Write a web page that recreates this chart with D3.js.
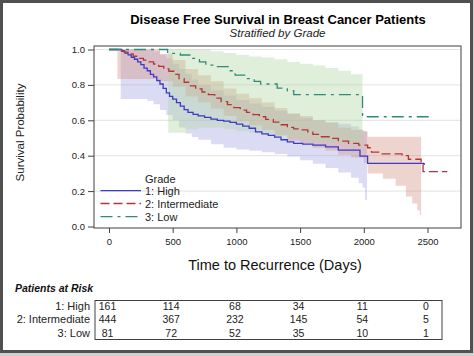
<!DOCTYPE html>
<html><head><meta charset="utf-8">
<script src="https://cdn.jsdelivr.net/npm/d3@7"></script>
<style>html,body{margin:0;padding:0;background:#fff;} svg{display:block;font-family:"Liberation Sans",Arial,sans-serif;}</style>
</head><body><svg id="c" width="474" height="356"></svg>
<script>
// ---------- data ----------
const groupNames = ["1: High", "2: Intermediate", "3: Low"];

const highTime = [0, 100, 125, 150, 175, 200, 225, 250, 275, 300, 325, 350, 375, 400, 425, 450, 475, 500, 530, 560, 590, 620, 660, 700, 750, 800, 850, 900, 950, 1000, 1050, 1100, 1150, 1200, 1250, 1300, 1350, 1400, 1450, 1520, 1600, 1700, 1800, 1970, 2030, 2470];
const highSurv = [1.0, 0.99, 0.98, 0.97, 0.955, 0.945, 0.93, 0.915, 0.895, 0.88, 0.86, 0.845, 0.825, 0.805, 0.78, 0.755, 0.735, 0.72, 0.70, 0.68, 0.66, 0.645, 0.633, 0.625, 0.617, 0.607, 0.60, 0.595, 0.588, 0.578, 0.567, 0.555, 0.535, 0.523, 0.515, 0.505, 0.49, 0.478, 0.47, 0.465, 0.46, 0.45, 0.432, 0.398, 0.357, 0.353];
const highEnd = 2480;

const interTime = [0, 90, 120, 150, 190, 230, 270, 310, 350, 390, 430, 470, 510, 550, 590, 630, 680, 730, 780, 830, 880, 930, 980, 1030, 1080, 1130, 1180, 1230, 1290, 1350, 1400, 1450, 1500, 1560, 1600, 1660, 1740, 1800, 1880, 1960, 2030, 2060, 2130, 2300, 2350, 2450, 2465];
const interSurv = [1.0, 0.993, 0.985, 0.975, 0.962, 0.95, 0.94, 0.93, 0.918, 0.905, 0.89, 0.877, 0.86, 0.835, 0.815, 0.795, 0.777, 0.76, 0.745, 0.725, 0.705, 0.688, 0.672, 0.658, 0.645, 0.632, 0.62, 0.605, 0.59, 0.575, 0.56, 0.552, 0.546, 0.535, 0.52, 0.507, 0.498, 0.482, 0.47, 0.46, 0.445, 0.42, 0.41, 0.40, 0.38, 0.357, 0.31];
const interEnd = 2655;

const lowTime = [0, 460, 560, 650, 710, 760, 840, 950, 990, 1080, 1140, 1190, 1320, 1400, 1450, 1990];
const lowSurv = [1.0, 0.978, 0.969, 0.95, 0.93, 0.912, 0.903, 0.88, 0.855, 0.835, 0.82, 0.805, 0.782, 0.767, 0.745, 0.62];
const lowEnd = 2545;

// confidence bands (Hall-Wellner style)
const highBandTime  = [92, 300, 350, 400, 450, 500, 550, 600, 650, 700, 800, 900, 1000, 1100, 1200, 1300, 1400, 1500, 1600, 1700, 1800, 1900, 1960, 1990, 2010];
const highBandLower = [0.72, 0.71, 0.69, 0.658, 0.63, 0.60, 0.56, 0.525, 0.505, 0.49, 0.465, 0.445, 0.435, 0.428, 0.42, 0.41, 0.395, 0.375, 0.355, 0.33, 0.305, 0.275, 0.244, 0.22, 0.15];
const highBandUpper = [1.0, 1.0, 0.99, 0.97, 0.95, 0.92, 0.89, 0.86, 0.83, 0.80, 0.77, 0.74, 0.715, 0.695, 0.675, 0.655, 0.635, 0.615, 0.60, 0.59, 0.58, 0.565, 0.55, 0.54, 0.54];
const highBandEnd = 2025;

const interBandTime  = [66, 300, 400, 500, 600, 700, 800, 900, 1000, 1100, 1200, 1300, 1400, 1500, 1600, 1700, 1800, 1900, 2000, 2030, 2150, 2250, 2330, 2380, 2420, 2440];
const interBandLower = [0.833, 0.833, 0.82, 0.79, 0.735, 0.70, 0.665, 0.625, 0.595, 0.57, 0.545, 0.515, 0.485, 0.47, 0.445, 0.43, 0.405, 0.39, 0.36, 0.30, 0.27, 0.23, 0.17, 0.13, 0.09, 0.065];
const interBandUpper = [1.0, 1.0, 0.975, 0.94, 0.89, 0.855, 0.82, 0.78, 0.75, 0.725, 0.70, 0.67, 0.64, 0.625, 0.60, 0.585, 0.56, 0.545, 0.535, 0.507, 0.507, 0.507, 0.507, 0.507, 0.507, 0.507];
const interBandEnd = 2450;

const lowBandTime  = [465, 600, 700, 800, 900, 1000, 1100, 1200, 1300, 1400, 1500, 1600, 1700, 1800, 1900];
const lowBandLower = [0.53, 0.55, 0.56, 0.56, 0.55, 0.54, 0.53, 0.52, 0.51, 0.50, 0.49, 0.48, 0.475, 0.47, 0.46];
const lowBandUpper = [1.0, 1.0, 1.0, 0.99, 0.98, 0.97, 0.96, 0.955, 0.945, 0.93, 0.92, 0.91, 0.895, 0.88, 0.86];
const lowBandEnd = 1990;

const xTickValues = [0, 500, 1000, 1500, 2000, 2500];
const yTickValues = [0.0, 0.2, 0.4, 0.6, 0.8, 1.0];
const riskTimes = [0, 500, 1000, 1500, 2000, 2500];
const riskHigh  = [161, 114, 68, 34, 11, 0];
const riskInter = [444, 367, 232, 145, 54, 5];
const riskLow   = [81, 72, 52, 35, 10, 1];

// ---------- drawing ----------
const svg = d3.select("#c");
const W = 474, H = 356;
const box = {l: 94, r: 461, t: 46, b: 228};
const x = d3.scaleLinear().domain([0, 2500]).range([109, 427.5]);
const y = d3.scaleLinear().domain([0, 1]).range([226.5, 49.5]);

// frame
svg.append("rect").attr("x", 0).attr("y", 0).attr("width", W).attr("height", H).attr("fill", "#cfcfcf");
svg.append("rect").attr("x", 1.5).attr("y", 1.5).attr("width", 470).attr("height", 350)
  .attr("fill", "#fff").attr("stroke", "#505050").attr("stroke-width", 3);

// titles
svg.append("text").attr("x", 278).attr("y", 24).attr("text-anchor", "middle")
  .attr("font-size", 13).attr("font-weight", "bold").attr("fill", "#000")
  .text("Disease Free Survival in Breast Cancer Patients");
svg.append("text").attr("x", 277.5).attr("y", 37).attr("text-anchor", "middle")
  .attr("font-size", 11.5).attr("font-style", "italic").attr("fill", "#222")
  .text("Stratified by Grade");

// gridlines
svg.append("g").selectAll("line").data(yTickValues.filter(d => d > 0)).join("line")
  .attr("x1", box.l).attr("x2", box.r).attr("y1", d => y(d)).attr("y2", d => y(d))
  .attr("stroke", "#e2e2e2").attr("stroke-width", 1);

function pts(times, vals, end) {
  const p = times.map((t, i) => ({t, v: vals[i]}));
  p.push({t: end, v: vals[vals.length - 1]});
  return p;
}
function bandPts(times, lo, hi, end) {
  const p = times.map((t, i) => ({t, lo: lo[i], hi: hi[i]}));
  p.push({t: end, lo: lo[lo.length - 1], hi: hi[hi.length - 1]});
  return p;
}
const area = d3.area().curve(d3.curveStepAfter).x(d => x(d.t)).y0(d => y(d.lo)).y1(d => y(d.hi));
const line = d3.line().curve(d3.curveStepAfter).x(d => x(d.t)).y(d => y(d.v));

const bands = [
  {d: bandPts(highBandTime, highBandLower, highBandUpper, highBandEnd), c: "#a4a4e0"},
  {d: bandPts(interBandTime, interBandLower, interBandUpper, interBandEnd), c: "#d49484"},
  {d: bandPts(lowBandTime, lowBandLower, lowBandUpper, lowBandEnd), c: "#b2d8a2"}
];
bands.forEach(b => svg.append("path").attr("d", area(b.d)).attr("fill", b.c).attr("fill-opacity", 0.4));

const series = [
  {d: pts(highTime, highSurv, highEnd), c: "#3b3bc8", dash: null},
  {d: pts(interTime, interSurv, interEnd), c: "#b53535", dash: "9,4"},
  {d: pts(lowTime, lowSurv, lowEnd), c: "#2f8a78", dash: "12,5,3,5"}
];
series.forEach(s => svg.append("path").attr("d", line(s.d)).attr("fill", "none")
  .attr("stroke", s.c).attr("stroke-width", 1.3).attr("stroke-dasharray", s.dash));

// plot box
svg.append("rect").attr("x", box.l).attr("y", box.t).attr("width", box.r - box.l).attr("height", box.b - box.t)
  .attr("fill", "none").attr("stroke", "#404040").attr("stroke-width", 1);

// axes
const yAxis = svg.append("g").attr("transform", `translate(${box.l},0)`)
  .call(d3.axisLeft(y).tickValues(yTickValues).tickFormat(d3.format(".1f")).tickSize(6).tickPadding(3));
const xAxis = svg.append("g").attr("transform", `translate(0,${box.b})`)
  .call(d3.axisBottom(x).tickValues(xTickValues).tickFormat(d3.format("d")).tickSize(5).tickPadding(5));
[yAxis, xAxis].forEach(a => {
  a.select(".domain").remove();
  a.selectAll("line").attr("stroke", "#404040");
  a.selectAll("text").attr("font-size", 9.5).attr("fill", "#222").attr("font-family", "Liberation Sans, Arial, sans-serif");
});

svg.append("text").attr("x", 275).attr("y", 270).attr("text-anchor", "middle")
  .attr("font-size", 14.5).attr("fill", "#111").text("Time to Recurrence (Days)");
svg.append("text").attr("transform", "translate(24,132.5) rotate(-90)").attr("text-anchor", "middle")
  .attr("font-size", 11.5).attr("fill", "#222").text("Survival Probability");

// legend
svg.append("text").attr("x", 145).attr("y", 182.7).attr("font-size", 11).attr("fill", "#222").text("Grade");
const legY = [190.7, 203.5, 216.7];
const legTextY = [195, 207.7, 221];
series.forEach((s, i) => {
  svg.append("line").attr("x1", 100.5).attr("x2", 141).attr("y1", legY[i]).attr("y2", legY[i])
    .attr("stroke", s.c).attr("stroke-width", 1.3).attr("stroke-dasharray", s.dash);
  svg.append("text").attr("x", 145).attr("y", legTextY[i]).attr("font-size", 11).attr("fill", "#222").text(groupNames[i]);
});

// risk table
svg.append("text").attr("x", 15).attr("y", 292).attr("font-size", 10.5).attr("font-weight", "bold")
  .attr("font-style", "italic").attr("fill", "#111").text("Patients at Risk");
svg.append("rect").attr("x", 95).attr("y", 300.5).attr("width", 347).attr("height", 39)
  .attr("fill", "none").attr("stroke", "#404040").attr("stroke-width", 1);
const riskRows = [riskHigh, riskInter, riskLow];
const rowY = [310, 323.4, 336.7];
riskRows.forEach((row, i) => {
  svg.append("text").attr("x", 90).attr("y", rowY[i]).attr("text-anchor", "end")
    .attr("font-size", 11).attr("fill", "#222").text(groupNames[i]);
  svg.append("g").selectAll("text").data(row).join("text")
    .attr("x", (d, j) => x(riskTimes[j]) - 1.5).attr("y", rowY[i]).attr("text-anchor", "middle")
    .attr("font-size", 10.5).attr("fill", "#222").text(d => d);
});
</script>
</body></html>
